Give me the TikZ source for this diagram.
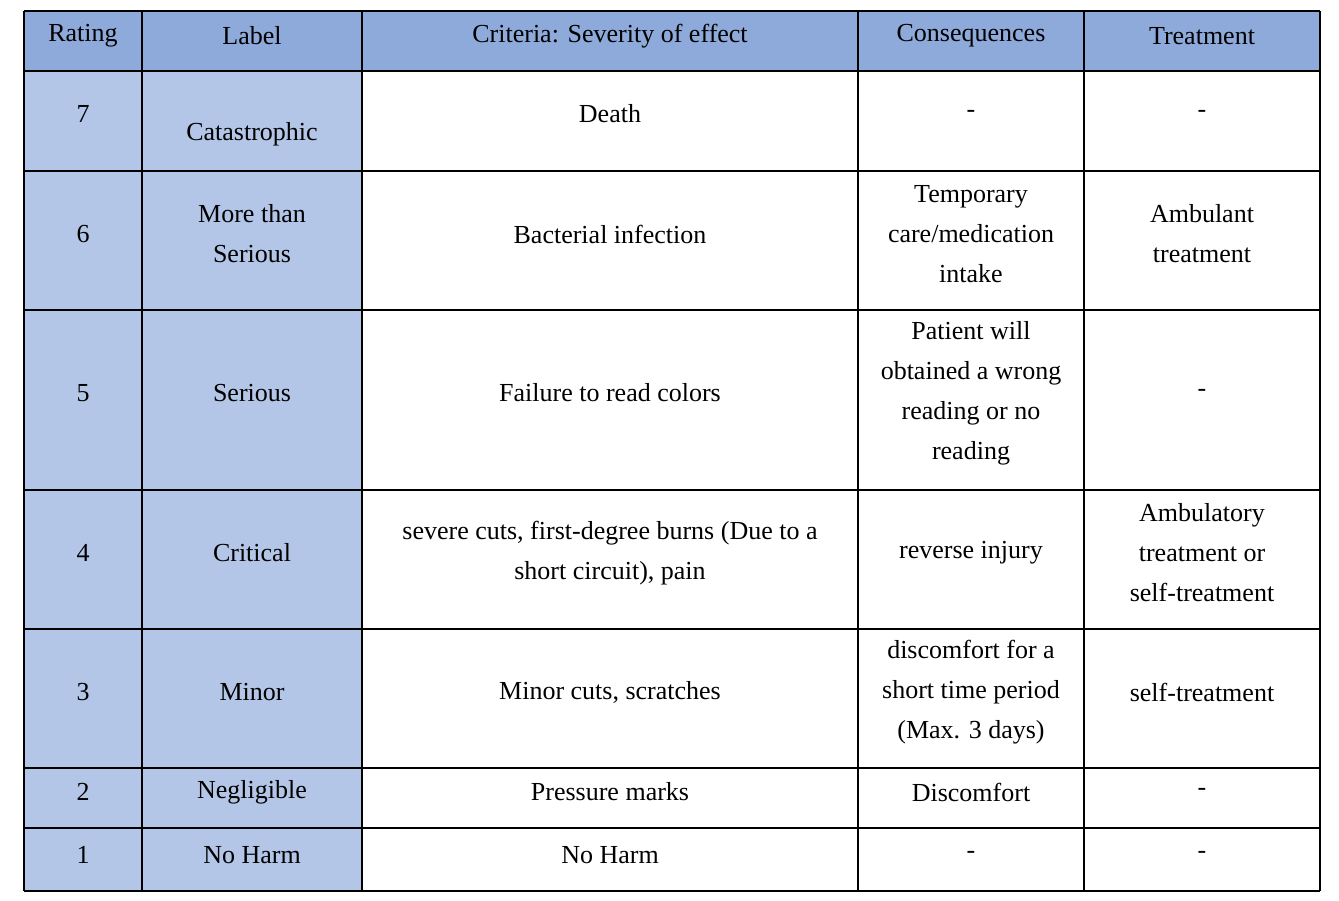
\documentclass[tikz,border=0pt]{standalone}
\usepackage{fontspec}
\setmainfont{Liberation Serif}
\usetikzlibrary{positioning}
\definecolor{headblue}{HTML}{8EAADB}
\definecolor{sideblue}{HTML}{B4C6E7}
\tikzset{
		cell/.style={align=center, font=\fontsize{26}{40}\selectfont, inner sep=0pt},
		grid/.style={draw=black, line width=1.2pt}
	}
\begin{document}
\begin{tikzpicture}[x=1pt, y=-1pt]
	\useasboundingbox (0,0) rectangle (1339,901);
	% fills
	\fill[headblue] (24,11) rectangle (1320,71);
	\fill[sideblue] (24,71) rectangle (362,891);
	% grid
	\foreach \xx in {24,142,362,858,1084,1320}
		\draw[grid] (\xx,11) -- (\xx,891);
	\foreach \yy in {11,71,171,310,490,629,768,828,891}
		\draw[grid] (24,\yy) -- (1320,\yy);
	% header
	\node[cell] (hrate) at (83,36) {Rating};
	\node[cell] (hlabel) at (252,36) {Label};
	\node[cell] (hcrit) at (610,36) {Criteria: Severity of effect};
	\node[cell] (hcons) at (971,36) {Consequences};
	\node[cell] (htreat) at (1202,36) {Treatment};
	% row 7
	\node[cell] (r7) at (83,114) {7};
	\node[cell] (l7) at (252,134) {Catastrophic};
	\node[cell] (c7) at (610,114) {Death};
	\node[cell] (q7) at (971,114) {-};
	\node[cell] (t7) at (1202,114) {-};
	% row 6
	\node[cell] (r6) at (83,234) {6};
	\node[cell] (l6) at (252,234) {More than\\Serious};
	\node[cell] (c6) at (610,234) {Bacterial infection};
	\node[cell] (q6) at (971,234) {Temporary\\care/medication\\intake};
	\node[cell] (t6) at (1202,234) {Ambulant\\treatment};
	% row 5
	\node[cell] (r5) at (83,393) {5};
	\node[cell] (l5) at (252,393) {Serious};
	\node[cell] (c5) at (610,393) {Failure to read colors};
	\node[cell] (q5) at (971,393) {Patient will\\obtained a wrong\\reading or no\\reading};
	\node[cell] (t5) at (1202,393) {-};
	% row 4
	\node[cell] (r4) at (83,553) {4};
	\node[cell] (l4) at (252,553) {Critical};
	\node[cell] (c4) at (610,553) {severe cuts, first-degree burns (Due to a\\short circuit), pain};
	\node[cell] (q4) at (971,553) {reverse injury};
	\node[cell] (t4) at (1202,553) {Ambulatory\\treatment or\\self-treatment};
	% row 3
	\node[cell] (r3) at (83,692) {3};
	\node[cell] (l3) at (252,692) {Minor};
	\node[cell] (c3) at (610,692) {Minor cuts, scratches};
	\node[cell] (q3) at (971,692) {discomfort for a\\short time period\\(Max. 3 days)};
	\node[cell] (t3) at (1202,692) {self-treatment};
	% row 2
	\node[cell] (r2) at (83,792) {2};
	\node[cell] (l2) at (252,792) {Negligible};
	\node[cell] (c2) at (610,792) {Pressure marks};
	\node[cell] (q2) at (971,792) {Discomfort};
	\node[cell] (t2) at (1202,792) {-};
	% row 1
	\node[cell] (r1) at (83,855) {1};
	\node[cell] (l1) at (252,855) {No Harm};
	\node[cell] (c1) at (610,855) {No Harm};
	\node[cell] (q1) at (971,855) {-};
	\node[cell] (t1) at (1202,855) {-};
\end{tikzpicture}
\end{document}
